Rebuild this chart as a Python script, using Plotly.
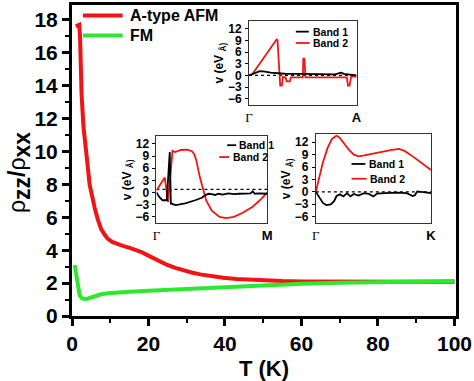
import plotly.graph_objects as go

# ---------------- main data ----------------
T_afm = [1.0, 1.9, 2.1, 2.5, 3.0, 3.4, 3.7, 4.2, 4.6, 5.2, 5.9, 6.7, 7.6, 8.5, 9.3, 10.5,
         11.9, 13.5, 14.9, 16.5, 18, 19.7, 21.4, 23, 24.9, 27, 29.2, 31.5, 33.5, 36.5,
         39.5, 43, 47, 51, 55, 60, 65, 70, 80, 90, 100]
ratio_afm = [17.6, 17.7, 17.0, 13.5, 11.5, 10.4, 9.9, 8.9, 8.0, 7.2, 6.6, 5.9, 5.3, 4.95,
             4.7, 4.5, 4.36, 4.25, 4.16, 4.05, 3.9, 3.7, 3.5, 3.3, 3.1, 2.92, 2.75, 2.63,
             2.53, 2.42, 2.33, 2.25, 2.19, 2.15, 2.12, 2.10, 2.09, 2.08, 2.08, 2.08, 2.08]

T_fm = [0.7, 1.1, 1.55, 2.0, 2.6, 3.3, 4.0, 5.0, 6.2, 7.6, 9.5, 11.9, 15, 20, 25, 30, 40,
        50, 60, 70, 80, 90, 100]
ratio_fm = [3.1, 2.4, 1.6, 1.25, 1.08, 1.03, 1.05, 1.13, 1.23, 1.32, 1.38, 1.43, 1.48,
            1.53, 1.59, 1.64, 1.76, 1.87, 1.96, 2.02, 2.06, 2.09, 2.12]

series_names = ["A-type AFM", "FM"]
x_ticks = [0, 20, 40, 60, 80, 100]
y_ticks = [0, 2, 4, 6, 8, 10, 12, 14, 16, 18]

# ---------------- inset data ----------------
inset_v_ticks = [-6, -3, 0, 3, 6, 9, 12]

# Gamma - A
k_GA_b1 = [0, 0.05, 0.1, 0.15, 0.2, 0.3, 0.35, 0.5, 0.8, 0.84, 0.86, 0.88, 0.95, 1.0]
v_GA_b1 = [0, 0.6, 1.1, 1.0, 0.7, 0.5, 0.4, 0.4, 0.3, 0.6, 0.7, 0.4, 0.2, 0]
k_GA_b2 = [0, 0.03, 0.256, 0.265, 0.29, 0.305, 0.315, 0.34, 0.35, 0.38, 0.39, 0.45, 0.5,
           0.505, 0.515, 0.525, 0.53, 0.7, 0.91, 0.92, 0.935, 0.95, 0.96, 1.0]
v_GA_b2 = [0, 0.3, 9.2, 9.0, -2.6, -2.6, -0.4, -0.5, -1.5, -1.5, -0.5, -0.5, -0.5, 4.3,
           4.3, -0.5, -0.5, -0.5, -0.5, -2.6, -2.6, -0.2, -0.2, -0.3]

# Gamma - M
k_GM_b1 = [0, 0.025, 0.054, 0.085, 0.093, 0.12, 0.13, 0.174, 0.2, 0.26, 0.35, 0.41, 0.44,
           0.47, 0.5, 0.53, 0.56, 0.6, 0.65, 0.7, 0.75, 0.8, 0.85, 0.87, 0.89, 0.93, 1.0]
v_GM_b1 = [0, -1.1, -1.9, -1.9, -1.9, 10.0, -2.7, -3.1, -3.0, -2.7, -1.9, -1.3, -0.7,
           -0.3, -0.4, -0.6, -0.3, -0.5, -0.2, -0.4, -0.3, -0.3, -0.2, 0.3, -0.3, -0.2, -0.3]
k_GM_b2 = [0, 0.075, 0.105, 0.145, 0.17, 0.22, 0.28, 0.32, 0.34, 0.36, 0.39, 0.42, 0.45,
           0.5, 0.57, 0.63, 0.7, 0.78, 0.87, 0.95, 1.0]
v_GM_b2 = [0.5, 3.7, -2.3, 10.3, 10.0, 10.5, 10.6, 10.2, 9.5, 8.0, 4.0, 1.0, -2.0, -4.5,
           -6.0, -6.3, -6.0, -5.0, -3.5, -1.5, 0]

# M - K
k_MK_b1 = [0, 0.03, 0.06, 0.09, 0.13, 0.16, 0.18, 0.21, 0.24, 0.27, 0.3, 0.33, 0.37, 0.42,
           0.46, 0.5, 0.53, 0.6, 0.7, 0.79, 0.84, 0.86, 0.88, 0.95, 1.0]
v_MK_b1 = [0, -1.3, -2.6, -3.2, -3.0, -2.2, -1.0, -0.6, -1.1, -0.3, -1.1, -0.5, -0.9,
           -0.3, -0.5, -1.1, -0.4, -0.3, -0.2, -0.3, -1.0, -0.8, 0.1, -0.1, -0.3]
k_MK_b2 = [0, 0.03, 0.06, 0.1, 0.14, 0.18, 0.21, 0.25, 0.29, 0.33, 0.37, 0.42, 0.5, 0.58,
           0.65, 0.72, 0.77, 0.82, 0.87, 0.93, 1.0]
v_MK_b2 = [0, 3.5, 7.0, 10.5, 12.8, 13.6, 13.0, 11.5, 10.1, 9.0, 8.6, 8.8, 9.3, 9.8, 10.1,
           10.4, 9.9, 9.0, 8.0, 6.8, 5.3]

zero_levels = [0, 0.8, 0]

FONT = "Liberation Sans, Arial, sans-serif"
RED = "#f01414"
GREEN = "#2ee82e"

fig = go.Figure()
fig.add_trace(go.Scatter(x=T_afm, y=ratio_afm, name=series_names[0], mode="lines",
                         showlegend=False, line=dict(color=RED, width=4), xaxis="x", yaxis="y"))
fig.add_trace(go.Scatter(x=T_fm, y=ratio_fm, name=series_names[1], mode="lines",
                         showlegend=False, line=dict(color=GREEN, width=4), xaxis="x", yaxis="y"))

insets = [
    ("2", k_GA_b1, v_GA_b1, k_GA_b2, v_GA_b2),
    ("3", k_GM_b1, v_GM_b1, k_GM_b2, v_GM_b2),
    ("4", k_MK_b1, v_MK_b1, k_MK_b2, v_MK_b2),
]
for (n, kb1, vb1, kb2, vb2), z in zip(insets, zero_levels):
    fig.add_trace(go.Scatter(x=[0, 1], y=[z, z], mode="lines", showlegend=False,
                             line=dict(color="black", width=1.3, dash="dot"),
                             xaxis="x" + n, yaxis="y" + n, hoverinfo="skip"))
    fig.add_trace(go.Scatter(x=kb2, y=vb2, mode="lines", showlegend=False, name="Band 2",
                             line=dict(color=RED, width=1.8), xaxis="x" + n, yaxis="y" + n))
    fig.add_trace(go.Scatter(x=kb1, y=vb1, mode="lines", showlegend=False, name="Band 1",
                             line=dict(color="black", width=1.8), xaxis="x" + n, yaxis="y" + n))

bold = dict(family=FONT, color="black", weight="bold")

layout = dict(
    width=474, height=381,
    margin=dict(l=72, r=16, t=2, b=64),
    plot_bgcolor="white", paper_bgcolor="white",
    font=dict(family=FONT, color="black"),
    showlegend=False,
    xaxis=dict(domain=[0, 1], range=[0, 100.4], tickvals=x_ticks, ticks="outside",
               ticklen=7, tickwidth=2.5, tickcolor="black",
               minor=dict(dtick=10, ticks="outside", ticklen=4, tickwidth=2, tickcolor="black"),
               showline=True, linewidth=3, linecolor="black", mirror=True,
               showgrid=False, zeroline=False, tickfont=dict(size=21, **bold),
               title=dict(text="T (K)", font=dict(size=22, **bold), standoff=8)),
    yaxis=dict(domain=[0, 1], range=[0, 18.9], tickvals=y_ticks, ticks="outside",
               ticklen=7, tickwidth=2.5, tickcolor="black",
               minor=dict(dtick=1, ticks="outside", ticklen=4, tickwidth=2, tickcolor="black"),
               showline=True, linewidth=3, linecolor="black", mirror=True,
               showgrid=False, zeroline=False, tickfont=dict(size=21, **bold)),
)

inset_domains = {
    "2": ([0.461, 0.741], [0.678, 0.948], "A"),
    "3": ([0.220, 0.508], [0.298, 0.578], "M"),
    "4": ([0.635, 0.935], [0.298, 0.584], "K"),
}
gamma = "<span style='font-family:Liberation Serif, Times New Roman, serif;font-weight:normal'>Γ</span>"
for n, (xd, yd, end_lbl) in inset_domains.items():
    layout["xaxis" + n] = dict(domain=xd, anchor="y" + n, range=[0, 1], tickvals=[0, 1],
                               ticktext=[gamma, end_lbl], ticks="", showline=True,
                               linewidth=1, linecolor="#333333", mirror=True, showgrid=False,
                               zeroline=False, tickfont=dict(size=13, **bold), ticklabelstandoff=0)
    layout["yaxis" + n] = dict(domain=yd, anchor="x" + n, range=[-7.6, 13.9],
                               tickvals=inset_v_ticks, ticks="outside", ticklen=3,
                               tickwidth=1, tickcolor="black", showline=True, linewidth=1,
                               linecolor="#333333", mirror=True, showgrid=False, zeroline=False,
                               tickfont=dict(size=12, **bold), ticklabelstandoff=1,
                               title=dict(text="v (eV <sub>Å)</sub>",
                                          font=dict(size=12, **bold), standoff=1))

fig.update_layout(**layout)

# y-axis title of main plot
fig.add_annotation(
    text="<span style='font-weight:normal'>ρ</span><sub><span style='font-size:23px'>zz</span></sub>"
         "/<span style='font-weight:normal'>ρ</span><sub><span style='font-size:23px'>xx</span></sub>",
    xref="paper", yref="paper", x=-0.135, y=0.46, xanchor="center", yanchor="middle",
    textangle=-90, showarrow=False, font=dict(size=23, **bold))

# main legend (drawn in paper coordinates)
main_leg = [(0.0285, 0.132, 0.966, 0.145), (0.0285, 0.132, 0.9016, 0.145)]
for (x0, x1, yy, xt), nm, col in zip(main_leg, series_names, [RED, GREEN]):
    fig.add_shape(type="line", xref="paper", yref="paper", x0=x0, x1=x1, y0=yy, y1=yy,
                  line=dict(color=col, width=4))
    fig.add_annotation(text=nm, xref="paper", yref="paper", x=xt, y=yy, xanchor="left",
                       yanchor="middle", showarrow=False, font=dict(size=16, **bold))

# inset legends (paper coordinates)
leg_pos = [
    [(0.5829, 0.6166, 0.9143, 0.6236), (0.5829, 0.6190, 0.8778, 0.6236)],
    [(0.4041, 0.4275, 0.5492, 0.4301), (0.3834, 0.4093, 0.5111, 0.4145)],
    [(0.7280, 0.7640, 0.4889, 0.7670), (0.7280, 0.7670, 0.4413, 0.7720)],
]
band_names = ["Band 1", "Band 2"]
band_colors = ["black", RED]
for rows in leg_pos:
    for (x0, x1, yy, xt), nm, col in zip(rows, band_names, band_colors):
        fig.add_shape(type="line", xref="paper", yref="paper",
                      x0=x0, x1=x1, y0=yy, y1=yy, line=dict(color=col, width=1.8))
        fig.add_annotation(text=nm, xref="paper", yref="paper",
                           x=xt, y=yy, xanchor="left", yanchor="middle", showarrow=False,
                           font=dict(size=10.5, **bold))

fig.write_html("out.html", config={"displayModeBar": False},
               post_script="document.body.style.margin='0px';document.body.style.padding='0px';")
